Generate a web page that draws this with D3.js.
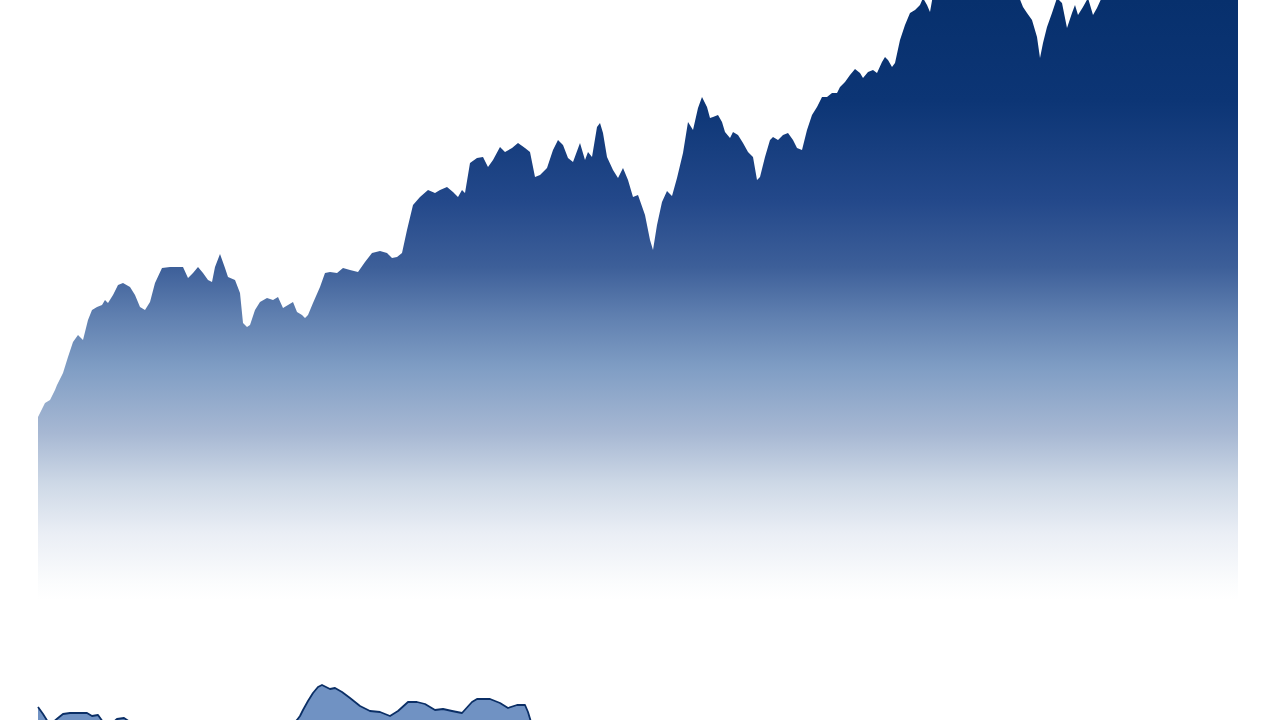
<!DOCTYPE html>
<html>
<head>
<meta charset="utf-8">
<script src="https://cdn.jsdelivr.net/npm/d3@7"></script>
<style>
  html, body { margin: 0; padding: 0; background: #ffffff; overflow: hidden; }
  svg { display: block; }
</style>
</head>
<body>
<svg id="chart" width="1280" height="720"></svg>
<script>
// ---- main (focus) series: day index and value ----
const focusDays = [0,5,7,12,17,19,25,30,35,40,45,50,54,59,64,67,70,75,80,85,92,97,102,107,112,117,124,132,145,150,155,160,165,170,174,177,182,187,190,197,202,205,209,212,217,222,229,235,240,245,250,255,259,264,267,270,275,282,287,292,299,305,312,320,327,334,342,349,354,359,364,369,375,382,390,397,402,409,415,420,424,427,432,439,445,450,455,462,467,474,480,487,492,497,502,509,515,520,525,530,535,542,547,550,554,559,562,565,569,575,580,585,590,595,600,607,612,615,619,624,629,634,639,645,650,655,660,664,669,672,675,680,684,687,692,695,700,705,710,715,719,722,727,732,735,740,745,750,755,759,764,769,774,779,784,789,794,799,802,807,812,817,822,825,830,835,839,844,847,850,854,857,862,867,872,877,882,885,889,892,895,902,912,922,932,942,952,962,972,979,985,989,994,999,1002,1005,1009,1014,1019,1024,1029,1034,1037,1040,1045,1050,1055,1059,1064,1072,1082,1097,1112,1127,1142,1157,1172,1187,1200];
const focusValues = [915,965,985,1000,1050,1075,1135,1215,1290,1325,1300,1400,1450,1465,1475,1500,1485,1525,1575,1585,1565,1525,1465,1450,1490,1585,1660,1665,1665,1610,1635,1665,1635,1600,1590,1665,1730,1660,1615,1600,1535,1385,1365,1375,1450,1490,1510,1500,1515,1460,1475,1490,1440,1425,1410,1425,1485,1565,1635,1640,1635,1660,1650,1640,1690,1735,1745,1735,1710,1715,1735,1850,1975,2015,2050,2035,2050,2065,2040,2015,2050,2035,2185,2210,2215,2165,2200,2265,2240,2260,2285,2260,2240,2115,2125,2160,2250,2300,2275,2210,2190,2285,2200,2240,2215,2365,2385,2335,2215,2150,2110,2160,2100,2015,2025,1925,1800,1750,1875,1990,2045,2020,2110,2235,2390,2350,2460,2515,2465,2410,2415,2425,2390,2340,2310,2340,2325,2285,2240,2215,2100,2115,2215,2300,2315,2300,2325,2335,2300,2260,2250,2350,2425,2465,2515,2515,2535,2535,2565,2590,2625,2655,2635,2610,2640,2650,2635,2690,2715,2700,2665,2685,2800,2875,2935,2950,2975,3010,2975,2940,3025,3100,3150,3125,3175,3150,3200,3150,3100,3040,2965,2935,2900,2815,2710,2785,2865,2935,3010,2985,2860,2935,2975,2925,2965,3010,2925,2960,3015,3100,3150,3200,3175,3250,3225,3275,3250,3300,3275];

// ---- context (overview) series ----
const contextDays = [0,5,10,14,20,25,32,40,49,54,60,65,72,79,86,92,100,110,125,140,155,170,185,200,215,230,245,255,259,262,265,270,275,280,284,288,292,297,304,312,322,332,342,352,360,370,379,387,397,405,414,424,434,439,452,462,470,479,487,490,493,500,520,545,570,595,620,645,670,695,720,745,770,795,820,845,870,895,920,945,970,995,1020,1045,1070,1095,1120,1145,1170,1200];
const contextValues = [63,56,48,47,52,56,57,57,57,54,55,48,45,51,52,48,40,38,42,36,40,44,38,35,41,46,43,46,50,54,60,69,77,83,85,83,81,82,78,72,64,59,58,54,59,68,68,66,60,61,59,57,68,71,71,67,62,65,65,58,48,42,38,44,40,36,42,45,39,34,40,44,37,33,41,46,42,38,44,40,35,43,47,41,37,44,40,36,42,39];

// ---- gradient stops (offset along value axis, colour) ----
const gradientOffsets = [0, 0.167, 0.333, 0.445, 0.528, 0.612, 0.722, 0.805, 0.888, 0.972, 1];
const gradientColors  = ["#07306d", "#0c3575", "#23488a", "#3d5f99", "#6080b0", "#7f9dc4", "#a7b8d3", "#cdd8e6", "#eaeef5", "#fbfcfd", "#ffffff"];

const svg = d3.select("#chart");
const W = 1280;

// focus scales
const x = d3.scaleLinear().domain([0, 1200]).range([38, 1238]);
const y = d3.scaleLinear().domain([0, 3000]).range([600, 0]);

// context scales
const x2 = d3.scaleLinear().domain([0, 1200]).range([38, 1238]);
const y2 = d3.scaleLinear().domain([0, 100]).range([770, 670]);

const focus = focusDays.map((d, i) => ({ d, v: focusValues[i] }));
const context = contextDays.map((d, i) => ({ d, v: contextValues[i] }));

const defs = svg.append("defs");
const grad = defs.append("linearGradient")
  .attr("id", "areaGrad")
  .attr("gradientUnits", "userSpaceOnUse")
  .attr("x1", 0).attr("x2", 0)
  .attr("y1", y(3000)).attr("y2", y(0));
grad.selectAll("stop")
  .data(gradientOffsets)
  .join("stop")
  .attr("offset", d => d)
  .attr("stop-color", (d, i) => gradientColors[i]);

const area = d3.area()
  .x(d => x(d.d))
  .y0(y(0))
  .y1(d => y(d.v))
  .curve(d3.curveLinear);

svg.append("path")
  .datum(focus)
  .attr("d", area)
  .attr("fill", "url(#areaGrad)");

// context chart
const area2 = d3.area()
  .x(d => x2(d.d))
  .y0(y2(0))
  .y1(d => y2(d.v))
  .curve(d3.curveLinear);
const line2 = d3.line()
  .x(d => x2(d.d))
  .y(d => y2(d.v))
  .curve(d3.curveLinear);

svg.append("path")
  .datum(context)
  .attr("d", area2)
  .attr("fill", "#7092c3");
svg.append("path")
  .datum(context)
  .attr("d", line2)
  .attr("fill", "none")
  .attr("stroke", "#0b2f66")
  .attr("stroke-width", 1.8)
  .attr("stroke-linejoin", "round");
</script>
</body>
</html>
